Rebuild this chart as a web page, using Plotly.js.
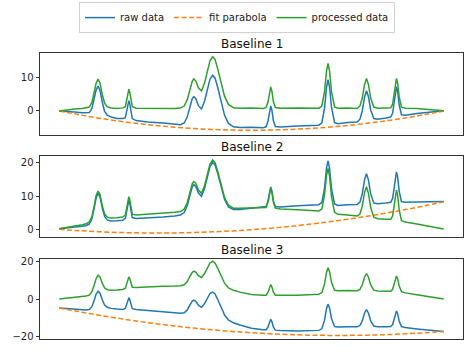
<!DOCTYPE html>
<html>
<head>
<meta charset="utf-8">
<script src="https://cdn.plot.ly/plotly-3.0.1.min.js"></script>
<style>html,body{margin:0;padding:0;background:#fff}#chart{width:474px;height:355px}</style>
</head>
<body>
<div id="chart"></div>
<script>
// shared sample positions (channel index)
const xs = [0,20,40,60,70,78,85,91,96,101,106,112,118,125,135,150,165,172,176,179,181,183,186,190,200,230,270,300,315,325,333,340,346,350,355,362,370,378,385,392,399,405,412,420,430,440,453,470,500,530,538,543,547,550,553,557,562,575,620,660,675,683,690,695,699,703,708,716,725,750,775,782,788,794,799,804,810,818,828,850,862,867,871,874,877,880,884,890,900,930,960,1000];
const xsFit = [0,50,100,150,200,250,300,350,400,450,500,550,600,650,700,750,800,850,900,950,1000];

// Baseline 1
const raw1 = [0.0,-0.05,-0.28,-0.54,-0.59,-0.50,0.75,3.55,6.22,7.33,6.04,2.57,-0.11,-1.26,-1.77,-2.21,-2.24,-2.0,0.07,2.38,3.02,2.32,-0.07,-2.26,-2.85,-3.29,-3.59,-4.04,-4.07,-3.56,-1.74,1.25,3.66,4.25,3.67,1.56,0.59,2.92,6.25,9.37,10.53,9.75,6.98,3.0,-1.29,-3.68,-4.68,-4.88,-4.8,-4.98,-4.68,-2.97,0.19,1.46,0.2,-2.93,-4.62,-4.77,-4.47,-4.37,-4.19,-3.48,0.92,6.93,9.2,7.0,1.09,-3.44,-3.75,-3.38,-3.28,-2.42,-0.01,4.11,5.94,4.25,0.29,-2.24,-2.45,-2.06,-1.81,-0.64,2.55,5.68,7.14,5.78,1.8,-1.13,-1.25,-0.73,-0.38,0.05];
const fit1 = [0,-1.08,-2.05,-2.91,-3.65,-4.28,-4.79,-5.19,-5.47,-5.64,-5.70,-5.64,-5.47,-5.19,-4.79,-4.28,-3.65,-2.91,-2.05,-1.08,0];
const proc1 = [0.0,0.4,0.6,0.75,0.89,1.14,2.52,5.44,8.2,9.4,8.2,4.84,2.26,1.23,0.89,0.7,0.9,1.25,3.38,5.73,6.4,5.73,3.38,1.25,0.8,0.75,0.9,0.75,0.85,1.44,3.32,6.37,8.82,9.44,8.89,6.83,5.9,8.28,11.65,14.8,16.0,15.24,12.5,8.55,4.3,1.94,0.97,0.8,0.9,0.7,0.99,2.69,5.84,7.1,5.84,2.69,0.99,0.8,0.9,0.75,0.81,1.46,5.8,11.76,14.0,11.76,5.8,1.2,0.8,0.9,0.7,1.47,3.8,7.84,9.6,7.84,3.8,1.15,0.8,0.85,0.9,1.99,5.11,8.19,9.6,8.19,4.14,1.1,0.8,0.75,0.5,0.05];

// Baseline 2
const raw2 = [0.2,0.33,0.68,0.94,1.17,1.59,3.19,6.41,9.47,10.8,9.72,6.38,3.85,2.84,2.53,2.59,2.74,3.29,5.57,8.09,8.79,8.13,5.69,3.54,3.25,3.41,3.7,4.03,4.31,5.03,7.05,10.21,12.75,13.39,12.89,10.86,9.92,12.3,15.67,18.83,20.05,19.39,16.79,13.01,8.95,6.75,5.92,5.98,6.32,6.58,6.84,8.5,11.49,12.72,11.5,8.54,6.87,6.73,7.05,7.28,7.39,8.06,12.42,18.34,20.54,18.26,12.29,7.6,7.14,7.35,7.48,8.2,10.64,14.88,16.71,14.86,10.64,7.93,7.66,7.89,8.13,9.28,12.53,15.76,17.25,15.74,11.49,8.33,8.14,8.21,8.31,8.39];
const fit2 = [0.0,-0.39,-0.69,-0.91,-1.05,-1.10,-1.07,-0.95,-0.74,-0.46,-0.08,0.37,0.91,1.54,2.25,3.05,3.93,4.89,5.94,7.07,8.29];
const proc2 = [0.2,0.5,1.0,1.4,1.69,2.16,3.8,7.06,10.14,11.5,10.44,7.13,4.63,3.65,3.39,3.5,3.7,4.27,6.56,9.09,9.8,9.14,6.71,4.57,4.3,4.5,4.8,5.1,5.35,6.05,8.05,11.19,13.71,14.34,13.82,11.77,10.8,13.14,16.48,19.61,20.8,20.11,17.47,13.65,9.53,7.27,6.36,6.3,6.4,6.4,6.58,8.2,11.15,12.35,11.1,8.1,6.38,6.1,5.9,5.6,5.51,6.06,10.32,16.16,18.3,15.96,9.92,5.1,4.5,4.3,4.0,4.6,6.93,11.06,12.8,10.86,6.53,3.67,3.2,3.0,3.0,4.04,7.21,10.38,11.8,10.23,5.9,2.61,2.2,1.6,1.0,0.1];

// Baseline 3
const raw3 = [-4.70,-5.09,-5.46,-5.72,-5.78,-5.59,-4.02,-0.6,2.66,4.22,3.11,-0.39,-3.14,-4.32,-4.93,-5.32,-5.49,-5.0,-2.63,0.02,0.72,0.0,-2.63,-5.05,-5.54,-5.99,-6.75,-7.38,-7.58,-7.28,-5.75,-3.13,-1.06,-0.57,-1.18,-3.2,-4.33,-2.37,0.42,2.99,3.75,2.76,-0.11,-4.08,-8.45,-11.12,-12.59,-13.79,-15.49,-16.24,-16.26,-14.74,-11.88,-10.75,-11.94,-14.88,-16.49,-16.67,-16.89,-16.78,-16.62,-15.79,-11.19,-5.11,-2.68,-4.72,-10.31,-14.61,-14.8,-14.68,-14.73,-14.02,-11.6,-7.39,-5.55,-7.35,-11.61,-14.3,-14.71,-14.67,-14.59,-13.52,-10.64,-7.71,-6.36,-7.76,-11.65,-14.56,-15.15,-15.83,-16.47,-17.2];
const fit3 = [-4.70,-6.64,-8.45,-10.12,-11.64,-13.03,-14.28,-15.39,-16.37,-17.20,-17.89,-18.45,-18.87,-19.14,-19.28,-19.28,-19.14,-18.87,-18.45,-17.89,-17.20];
const proc3 = [0.0,0.4,0.8,1.3,1.6,2.08,3.9,7.53,10.97,12.7,11.77,8.47,5.92,4.98,4.7,4.8,5.1,5.8,8.3,11.04,11.8,11.14,8.6,6.3,6.1,6.5,6.8,6.9,7.05,7.58,9.28,12.05,14.25,14.82,14.32,12.44,11.47,13.59,16.51,19.21,20.1,19.22,16.47,12.64,8.43,5.92,4.65,3.7,2.4,2.0,2.07,3.64,6.54,7.7,6.54,3.64,2.07,2.0,2.1,2.4,2.61,3.46,8.08,14.17,16.6,14.57,8.98,4.69,4.5,4.6,4.5,5.19,7.59,11.78,13.6,11.78,7.49,4.76,4.3,4.2,4.19,5.22,8.07,10.97,12.3,10.87,6.95,3.98,3.3,2.3,1.3,0.0];

const titles = ['Baseline 1','Baseline 2','Baseline 3'];
const names = ['raw data','fit parabola','processed data'];
const colors = ['#1f77b4','#ff7f0e','#2ca02c'];

const panels = [[raw1,fit1,proc1],[raw2,fit2,proc2],[raw3,fit3,proc3]];
const traces = [];
panels.forEach((p,i)=>{
  const xa = i===0?'x':'x'+(i+1), ya = i===0?'y':'y'+(i+1);
  traces.push({x:xs,y:p[0],type:'scatter',mode:'lines',name:names[0],line:{color:colors[0],width:1.5},xaxis:xa,yaxis:ya,showlegend:i===0});
  traces.push({x:xsFit,y:p[1],type:'scatter',mode:'lines',name:names[1],line:{color:colors[1],width:1.5,dash:'5px,2.5px',shape:'spline'},xaxis:xa,yaxis:ya,showlegend:i===0});
  traces.push({x:xs,y:p[2],type:'scatter',mode:'lines',name:names[2],line:{color:colors[2],width:1.5},xaxis:xa,yaxis:ya,showlegend:i===0});
});

const font = {family:'DejaVu Sans, sans-serif',size:10,color:'#222'};
const domains = [[0.7133,1.0],[0.3577,0.6399],[0.0,0.2797]];
const yranges = [[-7.1,17.1],[-2.2,22.0],[-21.2,21.3]];
const ytick = [[0,10],[0,10,20],[-20,0,20]];
const layout = {
  width:474,height:355,
  margin:{l:40,r:11,t:53,b:16,autoexpand:false},
  paper_bgcolor:'#fff',plot_bgcolor:'#fff',
  font:font,
  showlegend:true,
  legend:{orientation:'h',x:0.4657,xanchor:'center',y:1.178,yanchor:'top',
    bgcolor:'#fff',bordercolor:'#d0d0d0',borderwidth:1,font:{family:'DejaVu Sans, sans-serif',size:10,color:'#222'},
    itemclick:false},
  annotations:[]
};
for(let i=0;i<3;i++){
  const sx = i===0?'':String(i+1);
  layout['xaxis'+sx] = {domain:[0,1],range:[-50,1050],anchor:'y'+sx,showticklabels:false,ticks:'',
    showgrid:false,zeroline:false,showline:true,mirror:true,linecolor:'#333',linewidth:1};
  layout['yaxis'+sx] = {domain:domains[i],range:yranges[i],anchor:'x'+sx,tickvals:ytick[i],ticks:'outside',ticklen:3.5,
    tickcolor:'#333',tickwidth:1,showgrid:false,zeroline:false,showline:true,mirror:true,linecolor:'#333',linewidth:1,
    tickfont:font};
  layout.annotations.push({text:titles[i],xref:'paper',yref:'paper',x:0.5,y:domains[i][1],xanchor:'center',yanchor:'bottom',
    yshift:0,showarrow:false,font:{family:'DejaVu Sans, sans-serif',size:12,color:'#111'}});
}
Plotly.newPlot('chart',traces,layout,{displayModeBar:false,staticPlot:true});
</script>
</body>
</html>
